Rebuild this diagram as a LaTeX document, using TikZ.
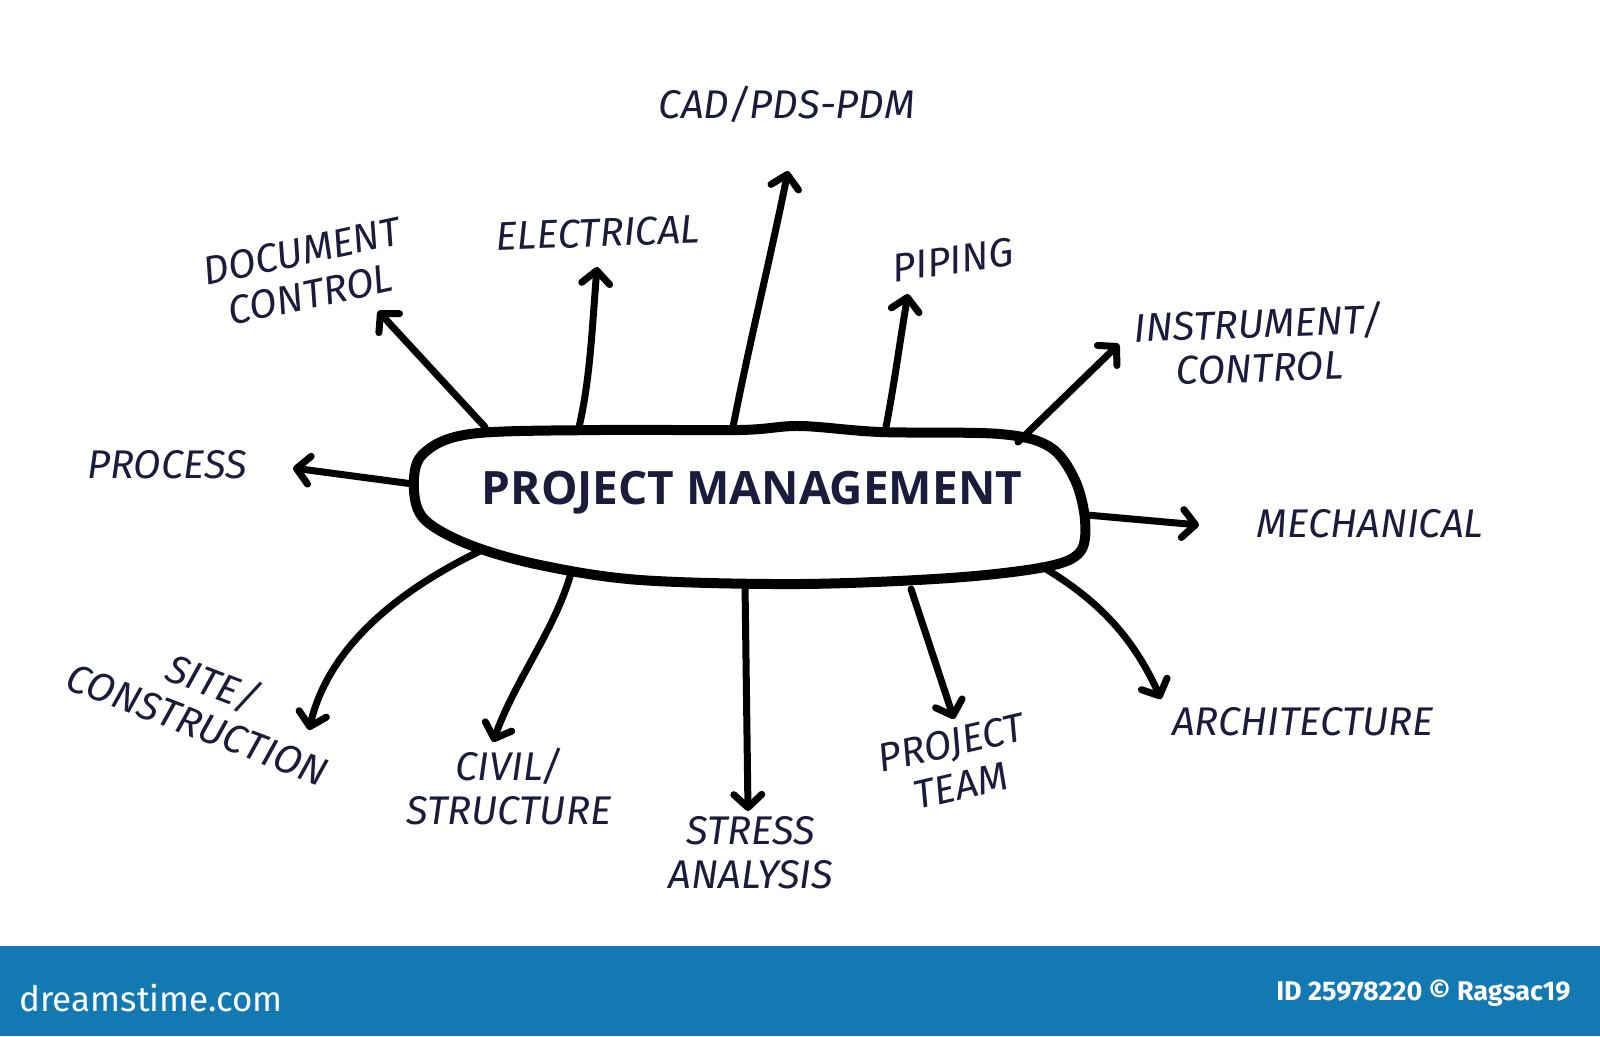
\documentclass[tikz,border=0pt]{standalone}
\usepackage{fontspec}
\setmainfont{Fira Sans}
\newfontfamily\titlefont{Open Sans}
\usetikzlibrary{arrows.meta}
\definecolor{ink}{HTML}{1B1B3C}
\definecolor{banner}{HTML}{1279B2}

\begin{document}
\begin{tikzpicture}[x=1pt,y=-1pt,
    hand/.style={font=\fontsize{40}{44}\selectfont\itshape, text=ink, align=center, inner sep=1pt},
    limb/.style={line width=7pt, line cap=round,
        -{Straight Barb[length=13pt,width=28pt,line cap=round,line join=round]}}]
        \def\W{1600}    %define picture width
        \def\H{1036}    %define picture height
        \useasboundingbox (0,0) rectangle (\W,\H);
        \fill[white] (0,0) rectangle (\W,\H);

        % central blob
        \draw[line width=10pt, line join=round] plot[smooth cycle, tension=0.55] coordinates {
            (470,434) (600,430) (740,430) (800,426) (880,432) (1000,434) (1050,447)
            (1075,480) (1085,520) (1080,552) (1045,567) (950,578) (800,584)
            (640,580) (540,565) (470,545) (425,520) (414,490) (422,455)};
        \node[font=\titlefont\bfseries\fontsize{46}{46}\selectfont, text=ink] (pm) at (752,493) {PROJECT MANAGEMENT};

        % labels
        \node[hand] (cad) at (787,104) {CAD/PDS-PDM};
        \node[hand, rotate=12] (doc) at (306,273) {DOCUMENT\\CONTROL};
        \node[hand, rotate=2] (elec) at (598,233) {ELECTRICAL};
        \node[hand, rotate=8] (pipe) at (953,260) {PIPING};
        \node[hand, rotate=2] (inst) at (1259,344) {INSTRUMENT/\\CONTROL};
        \node[hand] (proc) at (167,465) {PROCESS};
        \node[hand] (mech) at (1370,524) {MECHANICAL};
        \node[hand, rotate=-21] (site) at (206,702) {SITE/\\CONSTRUCTION};
        \node[hand] (civil) at (509,787) {CIVIL/\\STRUCTURE};
        \node[hand] (stress) at (751,853) {STRESS\\ANALYSIS};
        \node[hand, rotate=13] (team) at (956,764) {PROJECT\\TEAM};
        \node[hand] (arch) at (1303,722) {ARCHITECTURE};

        % arrow ends
        \coordinate (docS) at (485,427);   \coordinate (docE) at (378,311);
        \coordinate (elecS) at (579,427);  \coordinate (elecE) at (597,267);
        \coordinate (cadS) at (733,427);   \coordinate (cadE) at (788,171);
        \coordinate (pipeS) at (886,427);  \coordinate (pipeE) at (908,294);
        \coordinate (instS) at (1018,442); \coordinate (instE) at (1119,344);
        \coordinate (procS) at (413,484);  \coordinate (procE) at (293,468);
        \coordinate (mechS) at (1087,515); \coordinate (mechE) at (1199,525);
        \coordinate (siteS) at (480,551);  \coordinate (siteE) at (309,730);
        \coordinate (civilS) at (571,573); \coordinate (civilE) at (493,742);
        \coordinate (stressS) at (745,584);\coordinate (stressE) at (748,811);
        \coordinate (teamS) at (911,589);  \coordinate (teamE) at (954,719);
        \coordinate (archS) at (1041,566); \coordinate (archE) at (1161,699);

        \draw[limb] (docS) -- (docE);
        \draw[limb] (elecS) .. controls (590,380) and (592,330) .. (elecE);
        \draw[limb] (cadS) .. controls (750,340) and (770,260) .. (cadE);
        \draw[limb] (pipeS) .. controls (895,380) and (900,340) .. (pipeE);
        \draw[limb] (instS) -- (instE);
        \draw[limb] (procS) -- (procE);
        \draw[limb] (mechS) -- (mechE);
        \draw[limb] (siteS) .. controls (410,585) and (330,640) .. (siteE);
        \draw[limb] (civilS) .. controls (555,630) and (515,680) .. (civilE);
        \draw[limb] (stressS) -- (stressE);
        \draw[limb] (teamS) -- (teamE);
        \draw[limb] (archS) .. controls (1090,595) and (1130,630) .. (archE);

        % banner
        \fill[banner] (0,946) rectangle (\W,\H);
        \node[text=white, font=\fontsize{35}{35}\selectfont, anchor=west] (brand) at (16,998) {dreamstime.com};
        \node[text=white, font=\bfseries\fontsize{27}{27}\selectfont, anchor=east] (credit) at (1574,993) {ID 25978220 © Ragsac19};
\end{tikzpicture}
\end{document}
